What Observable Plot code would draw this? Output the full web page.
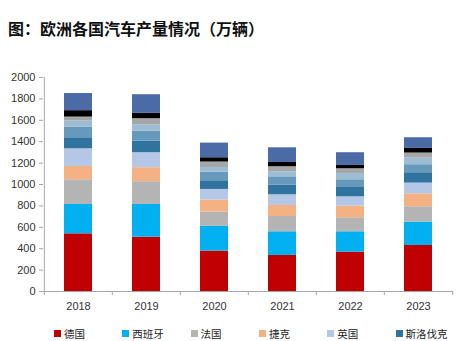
<!DOCTYPE html>
<html>
<head>
<meta charset="utf-8">
<script src="https://cdn.jsdelivr.net/npm/d3@7"></script>
<script src="https://cdn.jsdelivr.net/npm/@observablehq/plot@0.6"></script>
<style>
  html, body { margin: 0; padding: 0; background: #fff; }
  body { width: 466px; height: 341px; position: relative; overflow: hidden;
         font-family: "Liberation Sans", "Noto Sans CJK SC", sans-serif; }
  #title { position: absolute; left: 8px; top: 18px; font-size: 16px; line-height: 20px;
           font-weight: bold; color: #111; font-family: "Noto Sans CJK SC", sans-serif; white-space: nowrap; }
  #chart { position: absolute; left: 0; top: 50px; }
  #legend { position: absolute; left: 0; top: 325px; height: 16px; width: 466px; }
  .item { position: absolute; top: 0; height: 16px; display: flex; align-items: center;
          font-size: 10.5px; color: #222; font-family: "Noto Sans CJK SC", sans-serif; white-space: nowrap; }
  .sw { width: 7px; height: 7px; margin-right: 3px; display: inline-block; }
</style>
</head>
<body>
<div id="title">图：欧洲各国汽车产量情况（万辆）</div>
<div id="chart"></div>
<div id="legend"></div>
<script>
const years = ["2018", "2019", "2020", "2021", "2022", "2023"];
const series = ["德国", "西班牙", "法国", "捷克", "英国", "斯洛伐克", "意大利", "罗马尼亚", "匈牙利", "波兰", "其他"];
const colors = ["#c00000", "#00b0f0", "#b4b4b4", "#f4b183", "#b4c7e7", "#31739f", "#6699bb", "#9dbdd5", "#a6a6a6", "#000000", "#4a6ba5"];
const legendSeries = ["德国", "西班牙", "法国", "捷克", "英国", "斯洛伐克"];
const yTicks = [0, 200, 400, 600, 800, 1000, 1200, 1400, 1600, 1800, 2000];

const germany  = [539, 508, 378, 337, 368, 430];
const spain    = [274, 305, 230, 221, 190, 219];
const france   = [231, 213, 134, 143, 131, 143];
const czech    = [125, 131, 113, 103, 109, 121];
const uk       = [165, 140,  99, 100,  87, 100];
const slovakia = [103, 109,  81,  91,  87,  97];
const s7       = [100,  94,  81,  77,  72,  75];
const s8       = [ 56,  59,  43,  47,  59,  62];
const s9       = [ 37,  56,  51,  47,  44,  47];
const s10      = [ 60,  50,  40,  40,  31,  43];
const s11      = [160, 174, 137, 137, 119, 100];

const valueLists = [germany, spain, france, czech, uk, slovakia, s7, s8, s9, s10, s11];
const rows = [];
series.forEach((s, i) => years.forEach((y, j) => rows.push({year: y, series: s, value: valueLists[i][j]})));

const W = 466, H = 270, ML = 43, MR = 13;
const step = (W - ML - MR) / years.length;
const axisColor = "#a6a6a6";

const chart = Plot.plot({
  width: W, height: H,
  marginLeft: ML, marginRight: MR, marginTop: 27, marginBottom: 29,
  style: {fontFamily: "'Liberation Sans', Arial, sans-serif", fontSize: "11px", color: "#333", background: "#fff"},
  x: {domain: years, paddingInner: 0.59, paddingOuter: 0.295, label: null},
  y: {domain: [0, 2000], label: null},
  color: {domain: series, range: colors},
  marks: [
    Plot.barY(rows, {x: "year", y: "value", fill: "series", z: "series"}),
    Plot.ruleY([0], {stroke: axisColor, strokeWidth: 1}),
    Plot.ruleX(["2018"], {dx: -step / 2, y1: 0, y2: 2000, stroke: axisColor}),
    Plot.ruleX(years, {dx: -step / 2, y1: 0, y2: -37, stroke: axisColor}),
    Plot.ruleX(["2023"], {dx: step / 2, y1: 0, y2: -37, stroke: axisColor}),
    Plot.axisY({ticks: yTicks, tickSize: 4, tickPadding: 4, stroke: axisColor, tickFormat: d => String(d), fill: "#333", label: null}),
    Plot.axisX({tickSize: 0, tickPadding: 11, fill: "#333", label: null})
  ]
});
document.getElementById("chart").appendChild(chart);

const legend = document.getElementById("legend");
legendSeries.forEach((s, i) => {
  const el = document.createElement("div");
  el.className = "item";
  el.style.left = (54 + i * 68.3) + "px";
  const sw = document.createElement("span");
  sw.className = "sw";
  sw.style.background = colors[series.indexOf(s)];
  el.appendChild(sw);
  el.appendChild(document.createTextNode(s));
  legend.appendChild(el);
});
</script>
</body>
</html>
